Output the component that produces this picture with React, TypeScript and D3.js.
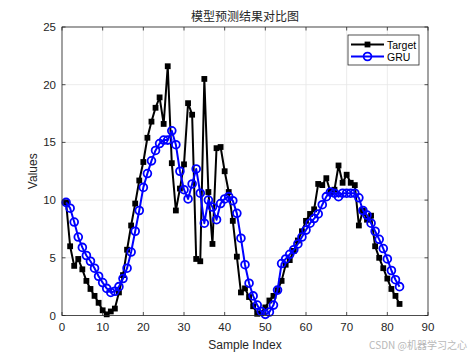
import React from "react";
import * as d3 from "d3";

const targetValues: number[] = [
  9.8, 6.0, 4.3, 4.9, 4.0, 3.0, 2.3, 1.7, 1.1, 0.45,
  0.1, 0.35, 0.6, 2.0, 3.5, 5.7, 7.8, 9.7, 11.7, 13.3,
  15.4, 16.8, 18.0, 18.9, 16.6, 21.6, 13.2, 9.1, 11.0, 13.1,
  18.4, 17.4, 4.9, 4.7, 20.5, 10.7, 6.2, 14.5, 14.6, 12.5,
  10.7, 8.2, 5.1, 2.0, 2.35, 1.6, 0.8, 0.15, 0.2, 0.7,
  1.3, 1.7, 2.2, 3.0, 4.4, 4.8, 5.6, 6.5, 7.3, 8.2,
  8.8, 9.2, 11.4, 11.3, 11.9, 10.7, 10.9, 13.0, 11.5, 12.2,
  11.5, 11.3, 7.8, 9.1, 8.3, 8.65, 6.0, 5.0, 4.1, 3.2,
  2.3, 1.7, 1.0,
];

const gruValues: number[] = [
  9.8, 9.3, 8.1, 6.8, 5.9, 5.2, 4.7, 4.1, 3.4, 2.85,
  2.35, 2.0, 2.1, 2.5, 3.2, 4.1, 5.5, 7.3, 9.1, 11.1,
  12.3, 13.4, 14.3, 14.9, 15.2, 15.2, 16.0, 14.8, 12.5, 10.9,
  10.1, 11.4, 12.7, 10.6, 8.0, 10.0, 9.4, 8.3, 9.7, 10.1,
  10.3, 9.95, 8.85, 6.7, 4.4, 2.8, 1.7, 0.9, 0.35, 0.1,
  0.3, 0.9, 2.2, 4.5, 4.9, 5.3, 5.7, 6.2, 6.8, 7.4,
  8.0, 8.4, 8.8, 9.6, 10.3, 10.7, 10.6, 10.3, 10.6, 10.6,
  10.6, 10.6, 10.2, 9.1, 8.7, 8.0, 7.3, 6.6, 5.8, 4.9,
  3.9, 3.1, 2.5,
];

const xTicks: number[] = [0, 10, 20, 30, 40, 50, 60, 70, 80, 90];
const yTicks: number[] = [0, 5, 10, 15, 20, 25];

const titleText = "模型预测结果对比图";
const xLabel = "Sample Index";
const yLabel = "Values";
const seriesNames = ["Target", "GRU"];
const watermark = "CSDN @机器学习之心";

export default function App() {
  const W = 474, H = 355;
  const left = 62, right = 428, top = 27, bottom = 315.5;
  const x = d3.scaleLinear().domain([0, 90]).range([left, right]);
  const y = d3.scaleLinear().domain([0, 25]).range([bottom, top]);

  const tData = targetValues.map((v, i) => [i + 1, v] as [number, number]);
  const gData = gruValues.map((v, i) => [i + 1, v] as [number, number]);
  const line = d3.line<[number, number]>().x(d => x(d[0])).y(d => y(d[1]));

  const axisColor = "#262626";
  const gridColor = "#e6e6e6";
  const font = "'Liberation Sans', Arial, sans-serif";
  const tickLen = 3.5;
  const sq = 5.8;
  const cr = 3.9;

  const lx0 = 348, ly0 = 35, lw = 71, lh = 30;

  return (
    <svg width={W} height={H} style={{ position: "absolute", left: 0, top: 0, background: "#fff" }}>
      <rect x={0} y={0} width={W} height={H} fill="#fff" />
      {xTicks.map(t => (
        <line key={"gx" + t} x1={x(t)} x2={x(t)} y1={top} y2={bottom} stroke={gridColor} strokeWidth={0.8} />
      ))}
      {yTicks.map(t => (
        <line key={"gy" + t} x1={left} x2={right} y1={y(t)} y2={y(t)} stroke={gridColor} strokeWidth={0.8} />
      ))}
      <path d={line(tData) || ""} fill="none" stroke="#000" strokeWidth={2} strokeLinejoin="round" />
      {tData.map((d, i) => (
        <rect key={"tm" + i} x={x(d[0]) - sq / 2} y={y(d[1]) - sq / 2} width={sq} height={sq} fill="#000" />
      ))}
      <path d={line(gData) || ""} fill="none" stroke="#0000ff" strokeWidth={2} strokeLinejoin="round" />
      {gData.map((d, i) => (
        <circle key={"gm" + i} cx={x(d[0])} cy={y(d[1])} r={cr} fill="none" stroke="#0000ff" strokeWidth={1.8} />
      ))}
      <rect x={left} y={top} width={right - left} height={bottom - top} fill="none" stroke={axisColor} strokeWidth={0.8} />
      {xTicks.map(t => (
        <g key={"xt" + t}>
          <line x1={x(t)} x2={x(t)} y1={bottom} y2={bottom - tickLen} stroke={axisColor} strokeWidth={0.8} />
          <line x1={x(t)} x2={x(t)} y1={top} y2={top + tickLen} stroke={axisColor} strokeWidth={0.8} />
          <text x={x(t)} y={bottom + 15} textAnchor="middle" fontFamily={font} fontSize={11.5} fill={axisColor}>{t}</text>
        </g>
      ))}
      {yTicks.map(t => (
        <g key={"yt" + t}>
          <line x1={left} x2={left + tickLen} y1={y(t)} y2={y(t)} stroke={axisColor} strokeWidth={0.8} />
          <line x1={right} x2={right - tickLen} y1={y(t)} y2={y(t)} stroke={axisColor} strokeWidth={0.8} />
          <text x={left - 6} y={y(t) + 4} textAnchor="end" fontFamily={font} fontSize={11.5} fill={axisColor}>{t}</text>
        </g>
      ))}
      <text x={(left + right) / 2} y={349} textAnchor="middle" fontFamily={font} fontSize={12} fill={axisColor}>{xLabel}</text>
      <text transform={`translate(37,${(top + bottom) / 2}) rotate(-90)`} textAnchor="middle" fontFamily={font} fontSize={12} fill={axisColor}>{yLabel}</text>
      <text x={(left + right) / 2} y={21} textAnchor="middle" fontFamily="'Noto Sans CJK SC', sans-serif" fontSize={12} fill={axisColor}>{titleText}</text>
      <rect x={lx0} y={ly0} width={lw} height={lh} fill="#fff" stroke={axisColor} strokeWidth={0.8} />
      <line x1={lx0 + 3} x2={lx0 + 36} y1={ly0 + 9.5} y2={ly0 + 9.5} stroke="#000" strokeWidth={2} />
      <rect x={lx0 + 19.5 - sq / 2} y={ly0 + 9.5 - sq / 2} width={sq} height={sq} fill="#000" />
      <text x={lx0 + 39} y={ly0 + 13.5} fontFamily={font} fontSize={10.5} fill="#000">{seriesNames[0]}</text>
      <line x1={lx0 + 3} x2={lx0 + 36} y1={ly0 + 21.5} y2={ly0 + 21.5} stroke="#0000ff" strokeWidth={2} />
      <circle cx={lx0 + 19.5} cy={ly0 + 21.5} r={cr} fill="none" stroke="#0000ff" strokeWidth={1.8} />
      <text x={lx0 + 39} y={ly0 + 25.5} fontFamily={font} fontSize={10.5} fill="#000">{seriesNames[1]}</text>
      <text x={467} y={349} textAnchor="end" fontFamily="'Noto Sans CJK SC', sans-serif" fontSize={10} fill="#b8b8b8">{watermark}</text>
    </svg>
  );
}
